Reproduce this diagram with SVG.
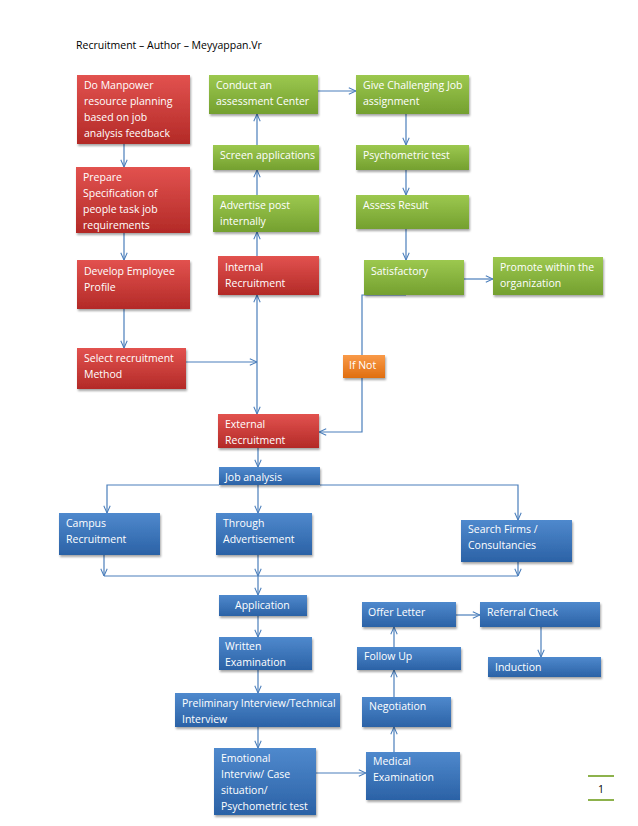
<svg xmlns="http://www.w3.org/2000/svg" width="638" height="826" viewBox="0 0 638 826">
<style>
.t{font-family:"Open Sans","Liberation Sans",sans-serif;font-size:10.5px;fill:#fff}
.h{font-family:"Open Sans","Liberation Sans",sans-serif;font-size:10.5px;fill:#000}
.r{fill:url(#gr);filter:url(#sh)}
.g{fill:url(#gg);filter:url(#sh)}
.b{fill:url(#gb);filter:url(#sh)}
.o{fill:url(#go);filter:url(#sh)}
#c path{fill:none;stroke:#4a7ebb;stroke-width:1.2}
</style>
<defs>
<linearGradient id="gr" x1="0" y1="0" x2="0" y2="1"><stop offset="0" stop-color="#e2524f"/><stop offset="1" stop-color="#b32a27"/></linearGradient>
<linearGradient id="gg" x1="0" y1="0" x2="0" y2="1"><stop offset="0" stop-color="#9cc84f"/><stop offset="1" stop-color="#74a02f"/></linearGradient>
<linearGradient id="gb" x1="0" y1="0" x2="0" y2="1"><stop offset="0" stop-color="#4f89cd"/><stop offset="1" stop-color="#2b62a6"/></linearGradient>
<linearGradient id="go" x1="0" y1="0" x2="0" y2="1"><stop offset="0" stop-color="#f99a48"/><stop offset="1" stop-color="#e06e10"/></linearGradient>
<filter id="sh" x="-10%" y="-10%" width="130%" height="140%"><feDropShadow dx="1" dy="2" stdDeviation="1.2" flood-color="#000" flood-opacity="0.35"/></filter>
<marker id="a" viewBox="0 0 10 10" refX="10" refY="5" markerWidth="8" markerHeight="8" orient="auto-start-reverse" markerUnits="userSpaceOnUse"><path d="M1,1 L10,5 L1,9" fill="none" stroke="#4a7ebb" stroke-width="1.3"/></marker>
<clipPath id="cp1"><rect x="76" y="167" width="114" height="66"/></clipPath>
<clipPath id="cp2"><rect x="218" y="414" width="101" height="34"/></clipPath>
</defs>
<rect width="638" height="826" fill="#fff"/>
<text class="h" x="76" y="49">Recruitment – Author – Meyyappan.Vr</text>
<g id="pagenum"><path d="M588 776H614M588 800H614" stroke="#8db24c" stroke-width="2"/><text class="h" x="601" y="793" text-anchor="middle" font-size="13">1</text></g>

<g id="c">
<path d="M124 144V167" marker-end="url(#a)"/>
<path d="M124 233V260" marker-end="url(#a)"/>
<path d="M124 309V348" marker-end="url(#a)"/>
<path d="M186 362H257" marker-end="url(#a)"/>
<path d="M257 295V414" marker-start="url(#a)" marker-end="url(#a)"/>
<path d="M257 256V232" marker-end="url(#a)"/>
<path d="M257 195V170" marker-end="url(#a)"/>
<path d="M257 145V114" marker-end="url(#a)"/>
<path d="M318 91H356" marker-end="url(#a)"/>
<path d="M406 114V145" marker-end="url(#a)"/>
<path d="M406 170V195" marker-end="url(#a)"/>
<path d="M406 229V260" marker-end="url(#a)"/>
<path d="M464 279H493" marker-end="url(#a)"/>
<path d="M406 295H362V355"/>
<path d="M362 378V432H319" marker-end="url(#a)"/>
<path d="M258 448V467" marker-end="url(#a)"/>
<path d="M258 485V513" marker-end="url(#a)"/>
<path d="M219 485H107V513" marker-end="url(#a)"/>
<path d="M320 485H518V520" marker-end="url(#a)"/>
<path d="M104 555V576" marker-end="url(#a)"/>
<path d="M518 562V576" marker-end="url(#a)"/>
<path d="M104 576H518"/>
<path d="M258 555V576" marker-end="url(#a)"/>
<path d="M258 576V595" marker-end="url(#a)"/>
<path d="M258 616V637" marker-end="url(#a)"/>
<path d="M258 670V693" marker-end="url(#a)"/>
<path d="M258 727V748" marker-end="url(#a)"/>
<path d="M316 773H366" marker-end="url(#a)"/>
<path d="M394 752V727" marker-end="url(#a)"/>
<path d="M394 697V670" marker-end="url(#a)"/>
<path d="M394 647V627" marker-end="url(#a)"/>
<path d="M456 615H480" marker-end="url(#a)"/>
<path d="M541 627V657" marker-end="url(#a)"/>
</g>

<g id="n1"><rect class="r" x="77" y="75" width="113" height="69"/><text class="t" x="84" y="89">Do Manpower<tspan x="84" dy="16">resource planning</tspan><tspan x="84" dy="16">based on job</tspan><tspan x="84" dy="16">analysis feedback</tspan></text></g>
<g id="n2"><rect class="r" x="76" y="167" width="114" height="66"/><text class="t" x="83" y="181" clip-path="url(#cp1)">Prepare<tspan x="83" dy="16">Specification of</tspan><tspan x="83" dy="16">people task job</tspan><tspan x="83" dy="16">requirements</tspan></text></g>
<g id="n3"><rect class="r" x="77" y="260" width="113" height="49"/><text class="t" x="84" y="275">Develop Employee<tspan x="84" dy="16">Profile</tspan></text></g>
<g id="n4"><rect class="r" x="77" y="348" width="109" height="41"/><text class="t" x="84" y="362">Select recruitment<tspan x="84" dy="16">Method</tspan></text></g>
<g id="n5"><rect class="r" x="218" y="256" width="101" height="39"/><text class="t" x="225" y="271">Internal<tspan x="225" dy="16">Recruitment</tspan></text></g>
<g id="n6"><rect class="r" x="218" y="414" width="101" height="34"/><text class="t" x="225" y="428" clip-path="url(#cp2)">External<tspan x="225" dy="16">Recruitment</tspan></text></g>
<g id="n7"><rect class="g" x="209" y="75" width="109" height="39"/><text class="t" x="216" y="89">Conduct an<tspan x="216" dy="16">assessment Center</tspan></text></g>
<g id="n8"><rect class="g" x="213" y="145" width="106" height="25"/><text class="t" x="220" y="159">Screen applications</text></g>
<g id="n9"><rect class="g" x="213" y="195" width="106" height="37"/><text class="t" x="220" y="209">Advertise post<tspan x="220" dy="16">internally</tspan></text></g>
<g id="n10"><rect class="g" x="356" y="75" width="113" height="39"/><text class="t" x="363" y="89">Give Challenging Job<tspan x="363" dy="16">assignment</tspan></text></g>
<g id="n11"><rect class="g" x="356" y="145" width="113" height="25"/><text class="t" x="363" y="159">Psychometric test</text></g>
<g id="n12"><rect class="g" x="356" y="195" width="113" height="34"/><text class="t" x="363" y="209">Assess Result</text></g>
<g id="n13"><rect class="g" x="364" y="260" width="100" height="35"/><text class="t" x="371" y="275">Satisfactory</text></g>
<g id="n14"><rect class="g" x="493" y="257" width="110" height="38"/><text class="t" x="500" y="271">Promote within the<tspan x="500" dy="16">organization</tspan></text></g>
<g id="n15"><rect class="o" x="343" y="355" width="42" height="23"/><text class="t" x="349" y="369">If Not</text></g>

<g id="n16"><rect class="b" x="219" y="467" width="101" height="18"/><text class="t" x="225" y="481">Job analysis</text></g>
<g id="n17"><rect class="b" x="59" y="513" width="101" height="42"/><text class="t" x="66" y="527">Campus<tspan x="66" dy="16">Recruitment</tspan></text></g>
<g id="n18"><rect class="b" x="216" y="513" width="96" height="42"/><text class="t" x="223" y="527">Through<tspan x="223" dy="16">Advertisement</tspan></text></g>
<g id="n19"><rect class="b" x="461" y="520" width="111" height="42"/><text class="t" x="468" y="533">Search Firms /<tspan x="468" dy="16">Consultancies</tspan></text></g>
<g id="n20"><rect class="b" x="219" y="595" width="88" height="21"/><text class="t" x="235" y="609">Application</text></g>
<g id="n21"><rect class="b" x="219" y="637" width="93" height="33"/><text class="t" x="225" y="650">Written<tspan x="225" dy="16">Examination</tspan></text></g>
<g id="n22"><rect class="b" x="175" y="693" width="165" height="34"/><text class="t" x="182" y="707">Preliminary Interview/Technical<tspan x="182" dy="16">Interview</tspan></text></g>
<g id="n23"><rect class="b" x="214" y="748" width="102" height="67"/><text class="t" x="221" y="762">Emotional<tspan x="221" dy="16">Interviw/ Case</tspan><tspan x="221" dy="16">situation/</tspan><tspan x="221" dy="16">Psychometric test</tspan></text></g>
<g id="n24"><rect class="b" x="366" y="752" width="94" height="48"/><text class="t" x="373" y="765">Medical<tspan x="373" dy="16">Examination</tspan></text></g>
<g id="n25"><rect class="b" x="362" y="697" width="89" height="30"/><text class="t" x="369" y="710">Negotiation</text></g>
<g id="n26"><rect class="b" x="357" y="647" width="104" height="23"/><text class="t" x="364" y="660">Follow Up</text></g>
<g id="n27"><rect class="b" x="362" y="602" width="94" height="25"/><text class="t" x="368" y="616">Offer Letter</text></g>
<g id="n28"><rect class="b" x="480" y="602" width="120" height="25"/><text class="t" x="487" y="616">Referral Check</text></g>
<g id="n29"><rect class="b" x="488" y="657" width="113" height="20"/><text class="t" x="495" y="671">Induction</text></g>
</svg>
